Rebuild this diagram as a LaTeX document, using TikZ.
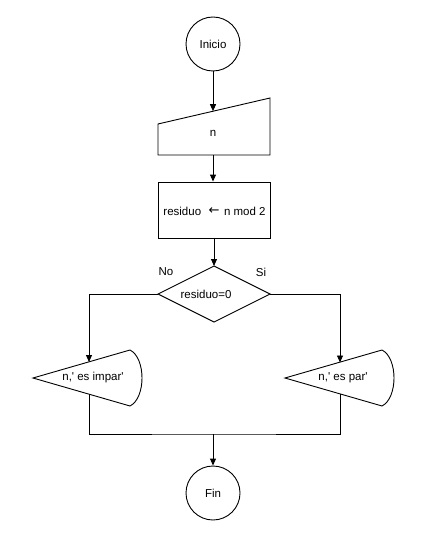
\documentclass[tikz,border=0pt]{standalone}
\usepackage{fontspec}
\newfontfamily\plainfont{Liberation Sans}
\newfontfamily\arrowfont{DejaVu Sans}
\usetikzlibrary{arrows.meta}
\begin{document}
\begin{tikzpicture}[x=1pt,y=-1pt,line width=0.9pt,
  font=\plainfont\fontsize{11.5}{13}\selectfont,
  flow/.style={-{Triangle[length=7pt,width=6pt]}},
  term/.style={circle,draw,minimum size=54pt,inner sep=0pt},
  shapeline/.style={draw,line width=0.9pt},
  lbl/.style={inner sep=0pt}]
\useasboundingbox (0,0) rectangle (428,540);
% Inicio
\node[term] (ini) at (213,44) {Inicio};
% manual input
\path[shapeline] (158,124) -- (270,98) -- (270,155) -- (158,155) -- cycle;
\coordinate (inTop) at (213,111.2);
\coordinate (inBot) at (213,155);
\node[lbl] (inTxt) at (213,133) {n};
% assignment
\node[draw,minimum width=112pt,minimum height=56pt,inner sep=0pt] (asg) at (214,210) {};
\node[lbl,anchor=west] (asgL) at (163,211) {residuo};
\node[lbl] (asgA) at (214,211) {\arrowfont\fontsize{13}{13}\selectfont ←};
\node[lbl,anchor=east] (asgR) at (266,211) {n mod 2};
% decision
\coordinate (dT) at (214,266);
\coordinate (dR) at (270,294);
\coordinate (dB) at (214,322);
\coordinate (dL) at (158,294);
\path[shapeline] (dT) -- (dR) -- (dB) -- (dL) -- cycle;
\node[lbl] (dec) at (206,294) {residuo=0};
\node[lbl] (no) at (166,272) {No};
\node[lbl] (si) at (261,272) {Si};
% left display
\path[shapeline] (33,378) -- (130,350) .. controls (146,358) and (146,398) .. (130,406) -- cycle;
\node[lbl] (dispL) at (93,378) {n,' es impar'};
\coordinate (lTop) at (89,362);
\coordinate (lBot) at (89,394);
% right display
\path[shapeline] (285,378) -- (382,350) .. controls (398,358) and (398,398) .. (382,406) -- cycle;
\node[lbl] (dispR) at (343,378) {n,' es par'};
\coordinate (rTop) at (340,362.5);
\coordinate (rBot) at (340,394);
% Fin
\node[term] (fin) at (213,493) {Fin};
\coordinate (join) at (213,434);
% connectors
\draw[flow] (ini) -- (inTop);
\draw[flow] (inBot) -- (asg.north -| inBot);
\draw[flow] (asg.south -| dT) -- (dT);
\draw[flow] (dL) -| (lTop);
\draw[flow] (dR) -| (rTop);
\draw (lBot) |- (join) -| (rBot);
\draw[flow] (join) -- (fin);
\end{tikzpicture}
\end{document}
